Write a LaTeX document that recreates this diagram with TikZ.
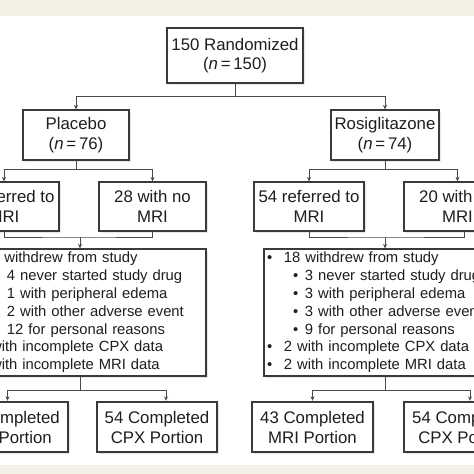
\documentclass[tikz,border=0pt]{standalone}
\usepackage{fontspec}
\setmainfont{Liberation Sans}
\usetikzlibrary{arrows.meta,shadows}
\definecolor{band}{HTML}{F2EFE5}
\definecolor{ink}{HTML}{1E1E1E}
\definecolor{edge}{HTML}{3A3A3A}
\definecolor{connc}{HTML}{4A4A4A}
\newcommand{\lbul}[1][3pt]{\hspace*{#1}\makebox[17pt][l]{•}}
\newcommand{\sbul}{\hspace*{29pt}\makebox[12pt][l]{•}}
\begin{document}
\begin{tikzpicture}[x=1pt,y=-1pt,
  every node/.style={text=ink},
  boxbase/.style={draw=edge, fill=white, align=center, inner sep=0pt,
    font=\fontsize{16.8}{20}\selectfont,
    drop shadow={shadow xshift=2pt, shadow yshift=-2pt, fill=black!18}},
  thinbox/.style={boxbase, line width=1.2pt},
  thickbox/.style={boxbase, line width=2.4pt},
  listbox/.style={thinbox, align=left, text width=240pt, minimum height=127pt,
    font=\fontsize{14.8}{17.8}\selectfont},
  conn/.style={draw=connc, line width=1pt},
  arr/.style={conn, -{Stealth[length=4.5pt,width=4pt]}}
]
\useasboundingbox (0,0) rectangle (474,474);
\clip (0,0) rectangle (474,474);
\fill[white] (0,0) rectangle (474,474);
\fill[band] (0,0) rectangle (474,16);
\fill[band] (0,465) rectangle (474,474);

% top
\node[thickbox, minimum width=136pt, minimum height=55pt,
  font=\fontsize{16.8}{18.5}\selectfont] (rand) at (235,55.5) {150 Randomized\\(\textit{n}\,=\,150)};
\node[thinbox, minimum width=106pt, minimum height=50pt] (plac) at (76,135) {Placebo\\(\textit{n}\,=\,76)};
\node[thinbox, minimum width=108pt, minimum height=50pt] (rosi) at (385,135) {Rosiglitazone\\(\textit{n}\,=\,74)};

% MRI referral
\node[thinbox, minimum width=110pt, minimum height=49pt] (pmri) at (4,206.5) {48 referred to\\MRI};
\node[thinbox, minimum width=107pt, minimum height=49pt] (pnomri) at (152.5,206.5) {28 with no\\MRI};
\node[thinbox, minimum width=110pt, minimum height=49pt] (rmri) at (309,206.5) {54 referred to\\MRI};
\node[thinbox, minimum width=107pt, minimum height=49pt] (rnomri) at (457.5,206.5) {20 with no\\MRI};

% withdrawals
\node[listbox] (pwd) at (86,312.5) {\lbul[-5pt] 19 withdrew from study\\
\sbul 4 never started study drug\\
\sbul 1 with peripheral edema\\
\sbul 2 with other adverse event\\
\sbul 12 for personal reasons\\
\lbul[-10pt] 2 with incomplete CPX data\\
\lbul[-10pt] 2 with incomplete MRI data};
\node[listbox] (rwd) at (384,312.5) {\lbul 18 withdrew from study\\
\sbul 3 never started study drug\\
\sbul 3 with peripheral edema\\
\sbul 3 with other adverse event\\
\sbul 9 for personal reasons\\
\lbul 2 with incomplete CPX data\\
\lbul 2 with incomplete MRI data};

% completed
\node[thickbox, minimum width=121pt, minimum height=50pt] (pmrid) at (7.5,427) {41 Completed\\MRI Portion};
\node[thickbox, minimum width=120pt, minimum height=50pt] (pcpx) at (157,427) {54 Completed\\CPX Portion};
\node[thickbox, minimum width=121pt, minimum height=50pt] (rmrid) at (312.5,427) {43 Completed\\MRI Portion};
\node[thickbox, minimum width=121pt, minimum height=50pt] (rcpx) at (464.5,427) {54 Completed\\CPX Portion};

% connectors
\coordinate (t1) at (235,96);
\draw[conn] (rand.south) -- (t1);
\draw[arr] (t1) -| (plac.north);
\draw[arr] (t1) -| (rosi.north);

\coordinate (p1) at (76,169);
\draw[conn] (plac.south) -- (p1);
\draw[arr] (p1) -| (pmri.north);
\draw[arr] (p1) -| (pnomri.north);
\coordinate (p2) at (80,237);
\draw[conn] (pmri.south) |- (p2) -| (pnomri.south);
\draw[arr] (p2) -- (p2 |- pwd.north);
\coordinate (p3) at (80,390);
\draw[conn] (p3 |- pwd.south) -- (p3);
\draw[arr] (p3) -| (pmrid.north);
\draw[arr] (p3) -| ([xshift=9pt]pcpx.north);

\coordinate (r1) at (385,169);
\draw[conn] (rosi.south) -- (r1);
\draw[arr] (r1) -| (rmri.north);
\draw[arr] (r1) -| (rnomri.north);
\coordinate (r2) at (385,237);
\draw[conn] (rmri.south) |- (r2) -| ([xshift=7pt]rnomri.south);
\draw[arr] (r2) -- (r2 |- rwd.north);
\coordinate (r3) at (385,390);
\draw[conn] (r3 |- rwd.south) -- (r3);
\draw[arr] (r3) -| (rmrid.north);
\draw[arr] (r3) -| ([xshift=5.5pt]rcpx.north);
\end{tikzpicture}
\end{document}
